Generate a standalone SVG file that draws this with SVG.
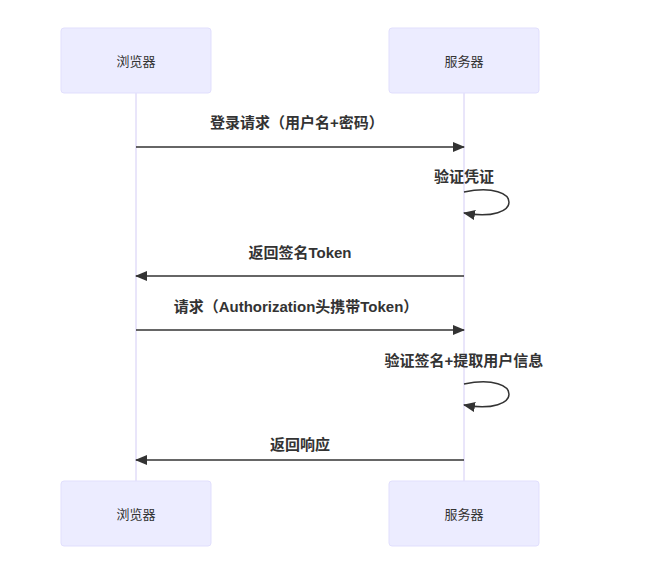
<svg xmlns="http://www.w3.org/2000/svg" width="653" height="565" viewBox="0 0 653 565">
<style>
.box{fill:#ECECFF;stroke:#E1DFFD;stroke-width:1}
.life{stroke:#D3CCF5;stroke-width:1}
.at{font-family:"Liberation Sans","Noto Sans CJK SC",sans-serif;font-size:13px;fill:#333;text-anchor:middle;dominant-baseline:central}
.mt{font-family:"Liberation Sans","Noto Sans CJK SC",sans-serif;font-size:15px;font-weight:bold;fill:#333;text-anchor:middle}
.msg{stroke:#333;stroke-width:1.5;fill:none}
</style>
<defs><marker id="ah" viewBox="0 0 12 10" refX="11" refY="5" markerWidth="12" markerHeight="10" markerUnits="userSpaceOnUse" orient="auto"><path d="M0,0L12,5L0,10z" fill="#333"/></marker></defs>
<rect width="653" height="565" fill="#fff"/>
<line class="life" x1="136" y1="93" x2="136" y2="481"/>
<line class="life" x1="464" y1="93" x2="464" y2="481"/>
<g id="browser-top"><rect class="box" x="61" y="28" width="150" height="65" rx="3"/><text class="at" x="136" y="61">浏览器</text></g>
<g id="server-top"><rect class="box" x="389" y="28" width="150" height="65" rx="3"/><text class="at" x="464" y="61">服务器</text></g>
<g id="browser-bottom"><rect class="box" x="61" y="481" width="150" height="65" rx="3"/><text class="at" x="136" y="514">浏览器</text></g>
<g id="server-bottom"><rect class="box" x="389" y="481" width="150" height="65" rx="3"/><text class="at" x="464" y="514">服务器</text></g>
<g id="connectors">
<line class="msg" x1="136" y1="147" x2="464" y2="147" marker-end="url(#ah)"/>
<text class="mt" x="297" y="128">登录请求（用户名+密码）</text>
<path class="msg" d="M464,192 C524,180 524,224 464,213" marker-end="url(#ah)"/>
<text class="mt" x="464" y="182">验证凭证</text>
<line class="msg" x1="464" y1="276" x2="136" y2="276" marker-end="url(#ah)"/>
<text class="mt" x="300" y="258">返回签名Token</text>
<line class="msg" x1="136" y1="330" x2="464" y2="330" marker-end="url(#ah)"/>
<text class="mt" x="296" y="312">请求（Authorization头携带Token）</text>
<path class="msg" d="M464,384 C524,372 524,416 464,405" marker-end="url(#ah)"/>
<text class="mt" x="464" y="366">验证签名+提取用户信息</text>
<line class="msg" x1="464" y1="460" x2="136" y2="460" marker-end="url(#ah)"/>
<text class="mt" x="300" y="450">返回响应</text>
</g>
</svg>
